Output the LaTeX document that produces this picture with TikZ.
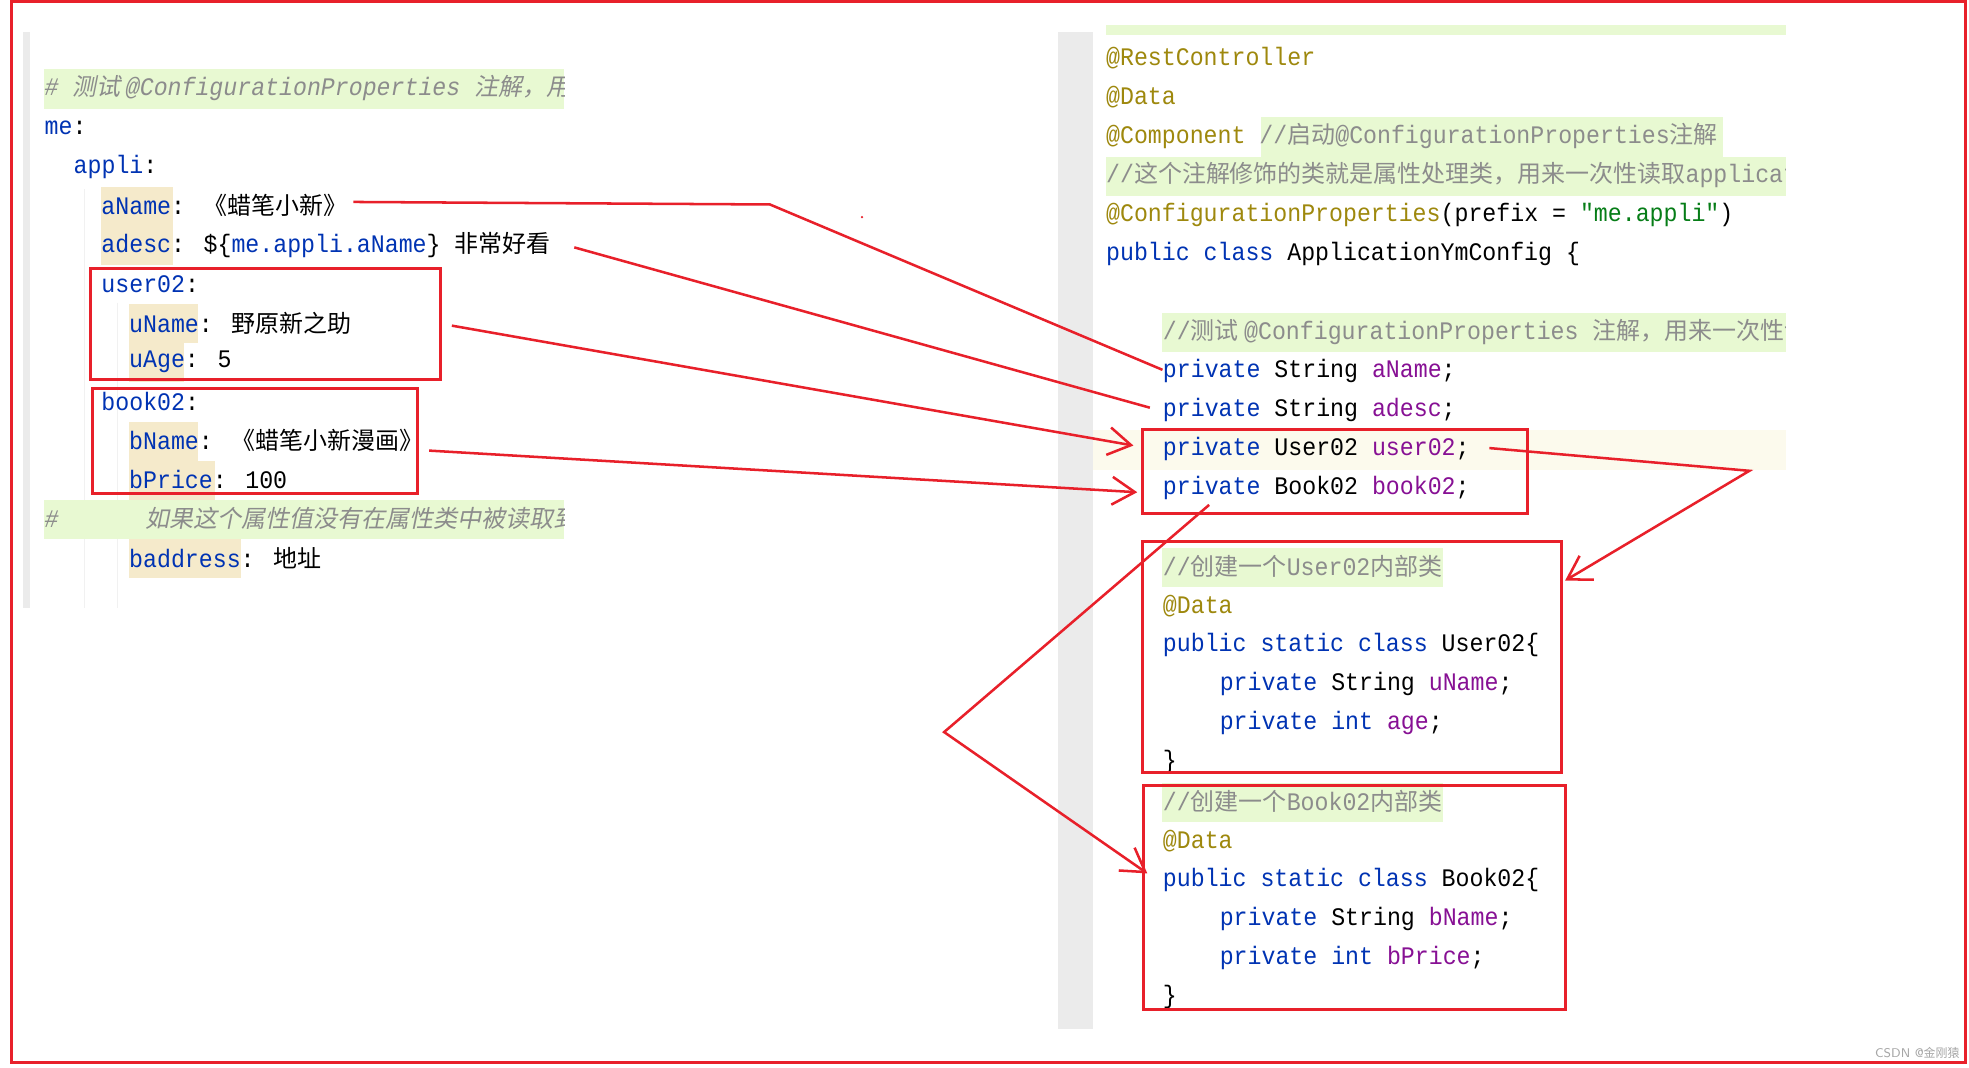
\documentclass[tikz,border=0pt]{standalone}
\usepackage{fontspec}
\usetikzlibrary{arrows.meta}
\newfontfamily\codefont[FakeStretch=0.92]{Liberation Mono}
\newfontfamily\zhfont[Scale=0.95]{Noto Sans CJK SC}
\newfontfamily\zhit[Scale=0.95,FakeSlant=0.2]{Noto Sans CJK SC}
\definecolor{kw}{HTML}{0033B3}
\definecolor{ann}{HTML}{9E880D}
\definecolor{fld}{HTML}{871094}
\definecolor{cmt}{HTML}{8C8C8C}
\definecolor{str}{HTML}{067D17}
\definecolor{keybg}{HTML}{F5EACB}
\definecolor{cmtbg}{HTML}{E8F9D2}
\definecolor{rowbg}{HTML}{FCFAED}
\definecolor{gut}{HTML}{EBEBEB}
\definecolor{rd}{HTML}{E8202A}
\newcommand\kw[1]{\textcolor{kw}{#1}}
\newcommand\an[1]{\textcolor{ann}{#1}}
\newcommand\fl[1]{\textcolor{fld}{#1}}
\newcommand\zh[1]{{\zhfont #1}}
\newcommand\cm[1]{\textcolor{cmt}{\itshape #1}}
\newcommand\cz[1]{\textcolor{cmt}{\zhit #1}}
\newcommand\cgr[1]{\textcolor{cmt}{#1}}
\newcommand\cgz[1]{\textcolor{cmt}{\zhfont #1}}
\tikzset{
  code/.style={anchor=west,inner sep=0pt,font=\codefont\fontsize{10pt}{11pt}\selectfont},
  redbox/.style={draw=rd,line width=1.2pt},
  redline/.style={draw=rd,line width=1pt},
  redarrow/.style={redline,-{Straight Barb[length=9pt,width=11pt]}}
}
\begin{document}
\begin{tikzpicture}[x=0.5pt,y=-0.5pt]
\useasboundingbox (0,0) rectangle (1560,846);
\fill[white] (0,0) rectangle (1560,846);
% ---------- left panel backgrounds
\fill[gut] (18,25) rectangle (24,482);
\draw[gut!80!black!20,line width=0.5pt] (67,150) -- (67,482) (93,240) -- (93,482);
\fill[cmtbg] (35,55) rectangle (447,86);
\fill[cmtbg] (35,396) rectangle (447,427);
\fill[keybg] (80,148) rectangle (137,179);
\fill[keybg] (80,179) rectangle (137,210);
\fill[keybg] (102,241) rectangle (157,272);
\fill[keybg] (102,272) rectangle (146,303);
\fill[keybg] (102,334) rectangle (157,365);
\fill[keybg] (102,365) rectangle (170,396);
\fill[keybg] (102,427) rectangle (191,458);
% left text
\begin{scope}
\clip (30,50) rectangle (447,90);
\node[code] (l1) at (35,70) {\cm{\# }\cz{测试 }\cm{@ConfigurationProperties }\cz{注解，用}};
\end{scope}
\node[code] (l2) at (35,101) {\kw{me}:};
\node[code] (l3) at (58,132) {\kw{appli}:};
\node[code] (l4) at (80,163) {\kw{aName}: \zh{《蜡笔小新》}};
\node[code] (l5) at (80,194) {\kw{adesc}: \$\{\kw{me.appli.aName}\} \zh{非常好看}};
\node[code] (l6) at (80,225) {\kw{user02}:};
\node[code] (l7) at (102,256) {\kw{uName}: \zh{野原新之助}};
\node[code] (l8) at (102,287) {\kw{uAge}: 5};
\node[code] (l9) at (80,318) {\kw{book02}:};
\node[code] (l10) at (102,349) {\kw{bName}: \zh{《蜡笔小新漫画》}};
\node[code] (l11) at (102,380) {\kw{bPrice}: 100};
\node[code] (l12) at (35,411) {\cm{\#}};
\begin{scope}
\clip (30,396) rectangle (447,427);
\node[code] (l12b) at (115,411) {\cz{如果这个属性值没有在属性类中被读取到}};
\end{scope}
\node[code] (l13) at (102,442) {\kw{baddress}: \zh{地址}};
\draw[redbox] (72,213) rectangle (349,301);
\draw[redbox] (73,308) rectangle (331,391);
% ---------- right panel backgrounds
\fill[gut] (838,25) rectangle (866,815);
\fill[cmtbg] (876,20) rectangle (1415,28);
\fill[rowbg] (866,341) rectangle (1415,372);
\fill[cmtbg] (999,93) rectangle (1365,124);
\fill[cmtbg] (876,124) rectangle (1415,155);
\fill[cmtbg] (921,248) rectangle (1415,279);
\fill[cmtbg] (921,434) rectangle (1143,465);
\fill[cmtbg] (921,620) rectangle (1143,651);
% right text
\node[code] (r1) at (876,46) {\an{@RestController}};
\node[code] (r2) at (876,77) {\an{@Data}};
\node[code] (r3) at (876,108) {\an{@Component} \cgr{//}\cgz{启动}\cgr{@ConfigurationProperties}\cgz{注解}};
\begin{scope}
\clip (870,124) rectangle (1415,279);
\node[code] (r4) at (876,139) {\cgr{//}\cgz{这个注解修饰的类就是属性处理类，用来一次性读取}\cgr{application}};
\node[code] (r7) at (921,263) {\cgr{//}\cgz{测试 }\cgr{@ConfigurationProperties }\cgz{注解，用来一次性读取}};
\end{scope}
\node[code] (r5) at (876,170) {\an{@ConfigurationProperties}(prefix = \textcolor{str}{"me.appli"})};
\node[code] (r6) at (876,201) {\kw{public class} ApplicationYmConfig \{};
\node[code] (fa) at (921,294) {\kw{private} String \fl{aName};};
\node[code] (fd) at (921,325) {\kw{private} String \fl{adesc};};
\node[code] (fu) at (921,356) {\kw{private} User02 \fl{user02};};
\node[code] (fb) at (921,387) {\kw{private} Book02 \fl{book02};};
\node[code] (u1) at (921,449) {\cgr{//}\cgz{创建一个}\cgr{User02}\cgz{内部类}};
\node[code] (u2) at (921,480) {\an{@Data}};
\node[code] (u3) at (921,511) {\kw{public static class} User02\{};
\node[code] (u4) at (966,542) {\kw{private} String \fl{uName};};
\node[code] (u5) at (966,573) {\kw{private int} \fl{age};};
\node[code] (u6) at (921,604) {\}};
\node[code] (b1) at (921,635) {\cgr{//}\cgz{创建一个}\cgr{Book02}\cgz{内部类}};
\node[code] (b2) at (921,666) {\an{@Data}};
\node[code] (b3) at (921,697) {\kw{public static class} Book02\{};
\node[code] (b4) at (966,728) {\kw{private} String \fl{bName};};
\node[code] (b5) at (966,759) {\kw{private int} \fl{bPrice};};
\node[code] (b6) at (921,790) {\}};
\draw[redbox] (905,340) rectangle (1210,407);
\draw[redbox] (905,429) rectangle (1237,612);
\draw[redbox] (906,622) rectangle (1240,800);
% ---------- connectors
\coordinate (a0) at (280,160); \coordinate (a1) at (610,162); \coordinate (a2) at (921,293);
\draw[redline] (a0) -- (a1) -- (a2);
\coordinate (d0) at (455,196); \coordinate (d1) at (911,323);
\draw[redline] (d0) -- (d1);
\coordinate (u0) at (358,258); \coordinate (uE) at (898,353);
\draw[redarrow] (u0) -- (uE);
\coordinate (k0) at (340,357); \coordinate (kE) at (901,390);
\draw[redarrow] (k0) -- (kE);
\coordinate (s0) at (1180,355); \coordinate (s1) at (1386,373); \coordinate (sE) at (1240,460);
\draw[redarrow] (s0) -- (s1) -- (sE);
\coordinate (t0) at (958,400); \coordinate (t1) at (748,580); \coordinate (tE) at (909,692);
\draw[redarrow] (t0) -- (t1) -- (tE);
\fill[rd] (683,172) circle (1);
% outer frame
\draw[rd,line width=1.2pt] (9,1) rectangle (1557,842);
\node[anchor=south east,inner sep=1pt,font=\sffamily\fontsize{5pt}{6pt}\selectfont,text=gray!70] (wm) at (1555,841) {CSDN @\zh{金刚猿}};
\end{tikzpicture}
\end{document}
